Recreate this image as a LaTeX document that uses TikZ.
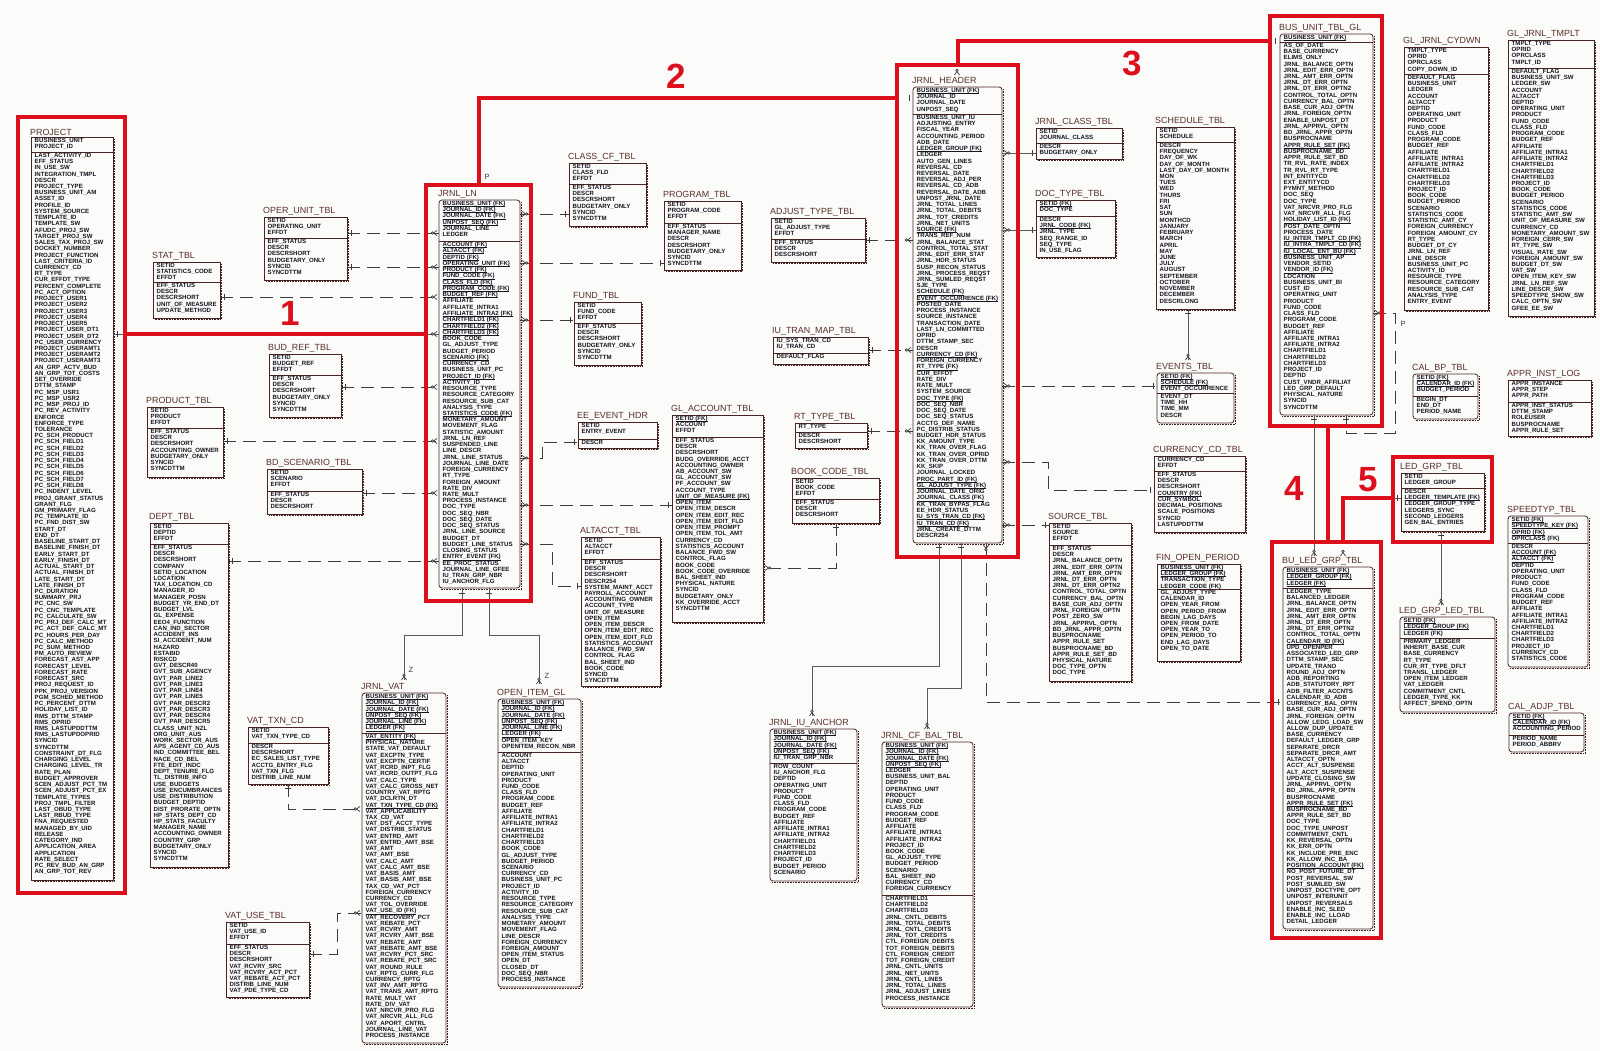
\documentclass[tikz,border=0pt]{standalone}
\usepackage{fontspec}
\setmainfont{Liberation Sans}
\usetikzlibrary{fit,calc}
\definecolor{bgc}{HTML}{FBFBFA}
\definecolor{tline}{HTML}{4A2420}
\definecolor{ttlc}{HTML}{5A3028}
\definecolor{rowc}{HTML}{15151F}
\definecolor{redc}{HTML}{DE0F1C}
\definecolor{connc}{HTML}{3C3C3C}
\tikzset{
  x=1pt,y=-1pt,
  tbl/.style={draw=tline,line width=.8pt,inner sep=0pt,outer sep=0pt},
  rtbl/.style={tbl,rounded corners=3pt},
  shad/.style={draw=tline!85!black,line width=1.5pt,dash pattern=on .9pt off .7pt},
  sepl/.style={draw=tline,line width=.8pt},
  ttl/.style={anchor=south west,inner sep=0pt,text=ttlc,font=\fontsize{8.9}{10}\selectfont},
  rowtext/.style={anchor=north west,inner sep=0pt,text=rowc,font=\fontsize{6.1}{6.23}\selectfont\bfseries},
  conn/.style={draw=connc,line width=.8pt,dash pattern=on 13pt off 7pt},
  sconn/.style={draw=connc!85,line width=.9pt},
  mk/.style={draw=connc,line width=.7pt,solid},
  redbox/.style={inner sep=0pt,outer sep=0pt},
  redln/.style={draw=redc,line width=4pt,line join=miter},
  bignum/.style={text=redc,inner sep=0pt,font=\fontsize{35}{36}\selectfont\bfseries},
  smalllab/.style={inner sep=0pt,text=connc,font=\fontsize{7.5}{8}\selectfont},
  tv/.pic={\draw[mk] (0,-3)--(0,3);},
  th/.pic={\draw[mk] (-3,0)--(3,0);},
  crow/.pic={\draw[mk] (0,-2.6)--(-3.5,0)--(0,2.6); \draw[mk,fill=bgc] (-4.6,0) circle[radius=1.2];}
}
\newsavebox\fkbox
\newcommand\F[1]{\sbox\fkbox{#1}\rlap{\rule[-1.2pt]{\wd\fkbox}{.45pt}}\usebox\fkbox}
\newcommand\rowlist[1]{\begin{tabular}{@{}l@{}}#1\end{tabular}}
\newcommand\ent[6][tbl]{%
  \node[#1,fit={(#3,#4)(#5,#6)}] (#2) {};
  \draw[shad] ([xshift=1.4pt,yshift=-2pt]#2.north east) -- ([xshift=1.4pt,yshift=-1.4pt]#2.south east) -- ([xshift=2pt,yshift=-1.4pt]#2.south west);
  \def\entx{#3}\def\enty{#4}}
\newcommand\txt[5]{%
  \draw[sepl] (#1.west |- 0,#2) -- (#1.east |- 0,#2);
  \node[ttl] (#1t) at (\entx-1,\enty-1.5) {#3};
  \node[rowtext] (#1k) at (\entx+3.5,\enty+0.8) {\rowlist{#4}};
  \node[rowtext] (#1r) at (\entx+3.5,#2+0.8) {\rowlist{#5}};}
\newcommand\lr[4][conn]{%
  \draw[#1] (#2.east |- 0,#4) -- (#3.west |- 0,#4);
  \pic at ($(#2.east |- 0,#4)+(4,0)$) {tv};
  \pic at ($(#3.west |- 0,#4)+(-2,0)$) {crow};}
\newcommand\rl[4][conn]{%
  \draw[#1] (#2.east |- 0,#4) -- (#3.west |- 0,#4);
  \pic[rotate=180] at ($(#2.east |- 0,#4)+(2,0)$) {crow};
  \pic at ($(#3.west |- 0,#4)+(-4,0)$) {tv};}
\setlength{\tabcolsep}{0pt}
\begin{document}
\sbox0{\fontsize{6.1}{6.23}\selectfont\bfseries X}\sbox0{\fontsize{8.9}{10}\selectfont X}\sbox0{\fontsize{35}{36}\selectfont\bfseries X}\sbox0{\fontsize{7.5}{8}\selectfont X}%
\catcode`\_=12
\begin{tikzpicture}
\useasboundingbox (0,0) rectangle (1600,1051);
\fill[bgc] (0,0) rectangle (1600,1051);

\ent{project}{31}{137}{113}{880}
\txt{project}{152}{PROJECT}{BUSINESS_UNIT\\PROJECT_ID}{LAST_ACTIVITY_ID\\EFF_STATUS\\IN_USE_SW\\INTEGRATION_TMPL\\DESCR\\PROJECT_TYPE\\BUSINESS_UNIT_AM\\ASSET_ID\\PROFILE_ID\\SYSTEM_SOURCE\\TEMPLATE_ID\\TEMPLATE_SW\\AFUDC_PROJ_SW\\TARGET_PROJ_SW\\SALES_TAX_PROJ_SW\\DOCKET_NUMBER\\PROJECT_FUNCTION\\LAST_CRITERIA_ID\\CURRENCY_CD\\RT_TYPE\\CUR_EFFDT_TYPE\\PERCENT_COMPLETE\\PC_ACT_OPTION\\PROJECT_USER1\\PROJECT_USER2\\PROJECT_USER3\\PROJECT_USER4\\PROJECT_USER5\\PROJECT_USER_DT1\\PROJECT_USER_DT2\\PC_USER_CURRENCY\\PROJECT_USERAMT1\\PROJECT_USERAMT2\\PROJECT_USERAMT3\\AN_GRP_ACTV_BUD\\AN_GRP_TOT_COSTS\\SET_OVERRIDE\\DTTM_STAMP\\PC_MSP_USR1\\PC_MSP_USR2\\PC_MSP_PROJ_ID\\PC_REV_ACTIVITY\\ENFORCE\\ENFORCE_TYPE\\TOLERANCE\\PC_SCH_PRODUCT\\PC_SCH_FIELD1\\PC_SCH_FIELD2\\PC_SCH_FIELD3\\PC_SCH_FIELD4\\PC_SCH_FIELD5\\PC_SCH_FIELD6\\PC_SCH_FIELD7\\PC_SCH_FIELD8\\PC_INDENT_LEVEL\\PROJ_GRANT_STATUS\\GRANT_FLG\\GM_PRIMARY_FLAG\\PC_TEMPLATE_ID\\PC_FND_DIST_SW\\START_DT\\END_DT\\BASELINE_START_DT\\BASELINE_FINISH_DT\\EARLY_START_DT\\EARLY_FINISH_DT\\ACTUAL_START_DT\\ACTUAL_FINISH_DT\\LATE_START_DT\\LATE_FINISH_DT\\PC_DURATION\\SUMMARY_PRJ\\PC_CNC_SW\\PC_CNC_TEMPLATE\\PC_CALCULATE_SW\\PC_PRJ_DEF_CALC_MT\\PC_ACT_DEF_CALC_MT\\PC_HOURS_PER_DAY\\PC_CALC_METHOD\\PC_SUM_METHOD\\PM_AUTO_REVIEW\\FORECAST_AST_APP\\FORECAST_LEVEL\\FORECAST_RATE\\FORECAST_SRC\\PROJ_REQUEST_ID\\PPK_PROJ_VERSION\\PGM_SCHED_METHOD\\PC_PERCENT_DTTM\\HOLIDAY_LIST_ID\\RMS_DTTM_STAMP\\RMS_OPRID\\RMS_LASTUPDDTTM\\RMS_LASTUPDOPRID\\SYNCID\\SYNCDTTM\\CONSTRAINT_DT_FLG\\CHARGING_LEVEL\\CHARGING_LEVEL_TR\\RATE_PLAN\\BUDGET_APPROVER\\SCEN_ADJUST_PCT_TM\\SCEN_ADJUST_PCT_EX\\TEMPLATE_TYPES\\PROJ_TMPL_FILTER\\LAST_OBUD_TYPE\\LAST_RBUD_TYPE\\FNA_REQUESTED\\MANAGED_BY_UID\\RELEASE\\CATEGORY_IND\\APPLICATION_AREA\\APPLICATION\\RATE_SELECT\\PC_REV_BUD_AN_GRP\\AN_GRP_TOT_REV}

\ent{stat}{153}{262}{220}{318}
\txt{stat}{282}{STAT_TBL}{SETID\\STATISTICS_CODE\\EFFDT}{EFF_STATUS\\DESCR\\DESCRSHORT\\UNIT_OF_MEASURE\\UPDATE_METHOD}
\ent{product}{147}{407}{223}{477}
\txt{product}{428}{PRODUCT_TBL}{SETID\\PRODUCT\\EFFDT}{EFF_STATUS\\DESCR\\DESCRSHORT\\ACCOUNTING_OWNER\\BUDGETARY_ONLY\\SYNCID\\SYNCDTTM}
\ent{dept}{150}{523}{228}{867}
\txt{dept}{544}{DEPT_TBL}{SETID\\DEPTID\\EFFDT}{EFF_STATUS\\DESCR\\DESCRSHORT\\COMPANY\\SETID_LOCATION\\LOCATION\\TAX_LOCATION_CD\\MANAGER_ID\\MANAGER_POSN\\BUDGET_YR_END_DT\\BUDGET_LVL\\GL_EXPENSE\\EEO4_FUNCTION\\CAN_IND_SECTOR\\ACCIDENT_INS\\SI_ACCIDENT_NUM\\HAZARD\\ESTABID\\RISKCD\\GVT_DESCR40\\GVT_SUB_AGENCY\\GVT_PAR_LINE2\\GVT_PAR_LINE3\\GVT_PAR_LINE4\\GVT_PAR_LINE5\\GVT_PAR_DESCR2\\GVT_PAR_DESCR3\\GVT_PAR_DESCR4\\GVT_PAR_DESCR5\\CLASS_UNIT_NZL\\ORG_UNIT_AUS\\WORK_SECTOR_AUS\\APS_AGENT_CD_AUS\\IND_COMMITTEE_BEL\\NACE_CD_BEL\\FTE_EDIT_INDC\\DEPT_TENURE_FLG\\TL_DISTRIB_INFO\\USE_BUDGETS\\USE_ENCUMBRANCES\\USE_DISTRIBUTION\\BUDGET_DEPTID\\DIST_PRORATE_OPTN\\HP_STATS_DEPT_CD\\HP_STATS_FACULTY\\MANAGER_NAME\\ACCOUNTING_OWNER\\COUNTRY_GRP\\BUDGETARY_ONLY\\SYNCID\\SYNCDTTM}
\ent{oper}{264}{217}{347}{280}
\txt{oper}{238}{OPER_UNIT_TBL}{SETID\\OPERATING_UNIT\\EFFDT}{EFF_STATUS\\DESCR\\DESCRSHORT\\BUDGETARY_ONLY\\SYNCID\\SYNCDTTM}
\ent{budref}{269}{354}{341}{417}
\txt{budref}{375}{BUD_REF_TBL}{SETID\\BUDGET_REF\\EFFDT}{EFF_STATUS\\DESCR\\DESCRSHORT\\BUDGETARY_ONLY\\SYNCID\\SYNCDTTM}
\ent{bdscen}{267}{469}{362}{514}
\txt{bdscen}{491}{BD_SCENARIO_TBL}{SETID\\SCENARIO\\EFFDT}{EFF_STATUS\\DESCR\\DESCRSHORT}
\ent[rtbl]{jl}{439}{200}{520}{588}
\txt{jl}{241}{JRNL_LN}{\F{BUSINESS_UNIT (FK)}\\\F{JOURNAL_ID (FK)}\\\F{JOURNAL_DATE (FK)}\\\F{UNPOST_SEQ (FK)}\\JOURNAL_LINE\\LEDGER}{\F{ACCOUNT (FK)}\\\F{ALTACCT (FK)}\\\F{DEPTID (FK)}\\\F{OPERATING_UNIT (FK)}\\\F{PRODUCT (FK)}\\\F{FUND_CODE (FK)}\\\F{CLASS_FLD (FK)}\\\F{PROGRAM_CODE (FK)}\\\F{BUDGET_REF (FK)}\\AFFILIATE\\AFFILIATE_INTRA1\\\F{AFFILIATE_INTRA2 (FK)}\\\F{CHARTFIELD1 (FK)}\\\F{CHARTFIELD2 (FK)}\\\F{CHARTFIELD3 (FK)}\\BOOK_CODE\\GL_ADJUST_TYPE\\BUDGET_PERIOD\\\F{SCENARIO (FK)}\\CURRENCY_CD\\BUSINESS_UNIT_PC\\\F{PROJECT_ID (FK)}\\ACTIVITY_ID\\RESOURCE_TYPE\\RESOURCE_CATEGORY\\RESOURCE_SUB_CAT\\ANALYSIS_TYPE\\\F{STATISTICS_CODE (FK)}\\MONETARY_AMOUNT\\MOVEMENT_FLAG\\STATISTIC_AMOUNT\\JRNL_LN_REF\\SUSPENDED_LINE\\LINE_DESCR\\JRNL_LINE_STATUS\\JOURNAL_LINE_DATE\\FOREIGN_CURRENCY\\RT_TYPE\\FOREIGN_AMOUNT\\RATE_DIV\\RATE_MULT\\PROCESS_INSTANCE\\DOC_TYPE\\DOC_SEQ_NBR\\DOC_SEQ_DATE\\DOC_SEQ_STATUS\\JRNL_LINE_SOURCE\\BUDGET_DT\\BUDGET_LINE_STATUS\\CLOSING_STATUS\\\F{ENTRY_EVENT (FK)}\\EE_PROC_STATUS\\JOURNAL_LINE_GFEE\\IU_TRAN_GRP_NBR\\IU_ANCHOR_FLG}
\ent{classcf}{569}{163}{646}{226}
\txt{classcf}{184}{CLASS_CF_TBL}{SETID\\CLASS_FLD\\EFFDT}{EFF_STATUS\\DESCR\\DESCRSHORT\\BUDGETARY_ONLY\\SYNCID\\SYNCDTTM}
\ent{program}{664}{201}{741}{270}
\txt{program}{223}{PROGRAM_TBL}{SETID\\PROGRAM_CODE\\EFFDT}{EFF_STATUS\\MANAGER_NAME\\DESCR\\DESCRSHORT\\BUDGETARY_ONLY\\SYNCID\\SYNCDTTM}
\ent{fund}{574}{302}{641}{365}
\txt{fund}{323}{FUND_TBL}{SETID\\FUND_CODE\\EFFDT}{EFF_STATUS\\DESCR\\DESCRSHORT\\BUDGETARY_ONLY\\SYNCID\\SYNCDTTM}
\ent{eevent}{578}{422}{657}{448}
\txt{eevent}{439}{EE_EVENT_HDR}{SETID\\ENTRY_EVENT}{DESCR}
\ent{altacct}{581}{537}{660}{686}
\txt{altacct}{559}{ALTACCT_TBL}{SETID\\ALTACCT\\EFFDT}{EFF_STATUS\\DESCR\\DESCRSHORT\\DESCR254\\SYSTEM_MAINT_ACCT\\PAYROLL_ACCOUNT\\ACCOUNTING_OWNER\\ACCOUNT_TYPE\\UNIT_OF_MEASURE\\OPEN_ITEM\\OPEN_ITEM_DESCR\\OPEN_ITEM_EDIT_REC\\OPEN_ITEM_EDIT_FLD\\STATISTICS_ACCOUNT\\BALANCE_FWD_SW\\CONTROL_FLAG\\BAL_SHEET_IND\\BOOK_CODE\\SYNCID\\SYNCDTTM}
\ent{glacct}{672}{415}{763}{622}
\txt{glacct}{437}{GL_ACCOUNT_TBL}{\F{SETID (FK)}\\ACCOUNT\\EFFDT}{EFF_STATUS\\DESCR\\DESCRSHORT\\BUDG_OVERRIDE_ACCT\\ACCOUNTING_OWNER\\AB_ACCOUNT_SW\\GL_ACCOUNT_SW\\PF_ACCOUNT_SW\\ACCOUNT_TYPE\\\F{UNIT_OF_MEASURE (FK)}\\OPEN_ITEM\\OPEN_ITEM_DESCR\\OPEN_ITEM_EDIT_REC\\OPEN_ITEM_EDIT_FLD\\OPEN_ITEM_PROMPT\\OPEN_ITEM_TOL_AMT\\CURRENCY_CD\\STATISTICS_ACCOUNT\\BALANCE_FWD_SW\\CONTROL_FLAG\\BOOK_CODE\\BOOK_CODE_OVERRIDE\\BAL_SHEET_IND\\PHYSICAL_NATURE\\SYNCID\\BUDGETARY_ONLY\\KK_OVERRIDE_ACCT\\SYNCDTTM}
\ent{adjust}{771}{218}{865}{262}
\txt{adjust}{239}{ADJUST_TYPE_TBL}{SETID\\GL_ADJUST_TYPE\\EFFDT}{EFF_STATUS\\DESCR\\DESCRSHORT}
\ent{iutran}{773}{337}{868}{364}
\txt{iutran}{353}{IU_TRAN_MAP_TBL}{IU_SYS_TRAN_CD\\IU_TRAN_CD}{DEFAULT_FLAG}
\ent{rttype}{795}{423}{867}{448}
\txt{rttype}{432}{RT_TYPE_TBL}{RT_TYPE}{DESCR\\DESCRSHORT}
\ent{bookcode}{792}{478}{879}{523}
\txt{bookcode}{499}{BOOK_CODE_TBL}{SETID\\BOOK_CODE\\EFFDT}{EFF_STATUS\\DESCR\\DESCRSHORT}
\ent[rtbl]{hdr}{913}{87}{1002}{543}
\txt{hdr}{114}{JRNL_HEADER}{\F{BUSINESS_UNIT (FK)}\\JOURNAL_ID\\JOURNAL_DATE\\UNPOST_SEQ}{BUSINESS_UNIT_IU\\ADJUSTING_ENTRY\\FISCAL_YEAR\\ACCOUNTING_PERIOD\\ADB_DATE\\\F{LEDGER_GROUP (FK)}\\LEDGER\\AUTO_GEN_LINES\\REVERSAL_CD\\REVERSAL_DATE\\REVERSAL_ADJ_PER\\REVERSAL_CD_ADB\\REVERSAL_DATE_ADB\\UNPOST_JRNL_DATE\\JRNL_TOTAL_LINES\\JRNL_TOTAL_DEBITS\\JRNL_TOT_CREDITS\\JRNL_NET_UNITS\\\F{SOURCE (FK)}\\TRANS_REF_NUM\\JRNL_BALANCE_STAT\\CONTROL_TOTAL_STAT\\JRNL_EDIT_ERR_STAT\\JRNL_HDR_STATUS\\SUSP_RECON_STATUS\\JRNL_PROCESS_REQST\\JRNL_SUMLED_REQST\\SJE_TYPE\\\F{SCHEDULE (FK)}\\\F{EVENT_OCCURRENCE (FK)}\\POSTED_DATE\\PROCESS_INSTANCE\\SOURCE_INSTANCE\\TRANSACTION_DATE\\LAST_LN_COMMITTED\\OPRID\\DTTM_STAMP_SEC\\DESCR\\\F{CURRENCY_CD (FK)}\\FOREIGN_CURRENCY\\\F{RT_TYPE (FK)}\\CUR_EFFDT\\RATE_DIV\\RATE_MULT\\SYSTEM_SOURCE\\\F{DOC_TYPE (FK)}\\DOC_SEQ_NBR\\DOC_SEQ_DATE\\DOC_SEQ_STATUS\\ACCTG_DEF_NAME\\PC_DISTRIB_STATUS\\BUDGET_HDR_STATUS\\KK_AMOUNT_TYPE\\KK_TRAN_OVER_FLAG\\KK_TRAN_OVER_OPRID\\KK_TRAN_OVER_DTTM\\KK_SKIP\\JOURNAL_LOCKED\\\F{PROC_PART_ID (FK)}\\\F{GL_ADJUST_TYPE (FK)}\\JOURNAL_DATE_ORIG\\\F{JOURNAL_CLASS (FK)}\\KK_TRAN_BYPAS_FLAG\\EE_HDR_STATUS\\\F{IU_SYS_TRAN_CD (FK)}\\\F{IU_TRAN_CD (FK)}\\JRNL_CREATE_DTTM\\DESCR254}
\ent{jclass}{1036}{128}{1122}{159}
\txt{jclass}{143}{JRNL_CLASS_TBL}{SETID\\JOURNAL_CLASS}{DESCR\\BUDGETARY_ONLY}
\ent{doctype}{1036}{200}{1115}{257}
\txt{doctype}{216}{DOC_TYPE_TBL}{\F{SETID (FK)}\\DOC_TYPE}{DESCR\\\F{JRNL_CODE (FK)}\\JRNL_TYPE\\SEQ_RANGE_ID\\SEQ_TYPE\\IN_USE_FLAG}
\ent{sched}{1156}{127}{1234}{309}
\txt{sched}{142}{SCHEDULE_TBL}{SETID\\SCHEDULE}{DESCR\\FREQUENCY\\DAY_OF_WK\\DAY_OF_MONTH\\LAST_DAY_OF_MONTH\\MON\\TUES\\WED\\THURS\\FRI\\SAT\\SUN\\MONTHCD\\JANUARY\\FEBRUARY\\MARCH\\APRIL\\MAY\\JUNE\\JULY\\AUGUST\\SEPTEMBER\\OCTOBER\\NOVEMBER\\DECEMBER\\DESCRLONG}
\ent[rtbl]{events}{1157}{373}{1234}{423}
\txt{events}{393}{EVENTS_TBL}{\F{SETID (FK)}\\\F{SCHEDULE (FK)}\\EVENT_OCCURRENCE}{EVENT_DT\\TIME_HH\\TIME_MM\\DESCR}
\ent{currency}{1154}{456}{1245}{532}
\txt{currency}{471}{CURRENCY_CD_TBL}{CURRENCY_CD\\EFFDT}{EFF_STATUS\\DESCR\\DESCRSHORT\\\F{COUNTRY (FK)}\\CUR_SYMBOL\\DECIMAL_POSITIONS\\SCALE_POSITIONS\\SYNCID\\LASTUPDDTTM}
\ent{source}{1049}{523}{1131}{681}
\txt{source}{545}{SOURCE_TBL}{SETID\\SOURCE\\EFFDT}{EFF_STATUS\\DESCR\\JRNL_BALANCE_OPTN\\JRNL_EDIT_ERR_OPTN\\JRNL_AMT_ERR_OPTN\\JRNL_DT_ERR_OPTN\\JRNL_DT_ERR_OPTN2\\CONTROL_TOTAL_OPTN\\CURRENCY_BAL_OPTN\\BASE_CUR_ADJ_OPTN\\JRNL_FOREIGN_OPTN\\POST_ZERO_SW\\JRNL_APPRVL_OPTN\\BD_JRNL_APPR_OPTN\\BUSPROCNAME\\APPR_RULE_SET\\BUSPROCNAME_BD\\APPR_RULE_SET_BD\\PHYSICAL_NATURE\\DOC_TYPE_OPTN\\DOC_TYPE}
\ent{finopen}{1157}{564}{1240}{661}
\txt{finopen}{589}{FIN_OPEN_PERIOD}{\F{BUSINESS_UNIT (FK)}\\\F{LEDGER_GROUP (FK)}\\TRANSACTION_TYPE\\LEDGER_CODE (FK)}{GL_ADJUST_TYPE\\CALENDAR_ID\\OPEN_YEAR_FROM\\OPEN_PERIOD_FROM\\BEGIN_LAG_DAYS\\OPEN_FROM_DATE\\OPEN_YEAR_TO\\OPEN_PERIOD_TO\\END_LAG_DAYS\\OPEN_TO_DATE}
\ent[rtbl]{bus}{1280}{34}{1373}{415}
\txt{bus}{42}{BUS_UNIT_TBL_GL}{\F{BUSINESS_UNIT (FK)}}{AS_OF_DATE\\BASE_CURRENCY\\ELIMS_ONLY\\JRNL_BALANCE_OPTN\\JRNL_EDIT_ERR_OPTN\\JRNL_AMT_ERR_OPTN\\JRNL_DT_ERR_OPTN\\JRNL_DT_ERR_OPTN2\\CONTROL_TOTAL_OPTN\\CURRENCY_BAL_OPTN\\BASE_CUR_ADJ_OPTN\\JRNL_FOREIGN_OPTN\\ENABLE_UNPOST_DT\\JRNL_APPRVL_OPTN\\BD_JRNL_APPR_OPTN\\BUSPROCNAME\\\F{APPR_RULE_SET (FK)}\\BUSPROCNAME_BD\\APPR_RULE_SET_BD\\TR_RVL_RATE_INDEX\\TR_RVL_RT_TYPE\\INT_ENTITYCD\\EXT_ENTITYCD\\PYMNT_METHOD\\DOC_SEQ\\DOC_TYPE\\VAT_NRCVR_PRO_FLG\\VAT_NRCVR_ALL_FLG\\\F{HOLIDAY_LIST_ID (FK)}\\POST_DATE_OPTN\\PROCESS_DATE\\\F{IU_INTER_TMPLT_CD (FK)}\\\F{IU_INTRA_TMPLT_CD (FK)}\\\F{IU_LOCAL_ENT_BU (FK)}\\BUSINESS_UNIT_AP\\VENDOR_SETID\\\F{VENDOR_ID (FK)}\\LOCATION\\BUSINESS_UNIT_BI\\CUST_ID\\OPERATING_UNIT\\PRODUCT\\FUND_CODE\\CLASS_FLD\\PROGRAM_CODE\\BUDGET_REF\\AFFILIATE\\AFFILIATE_INTRA1\\AFFILIATE_INTRA2\\CHARTFIELD1\\CHARTFIELD2\\CHARTFIELD3\\PROJECT_ID\\DEPTID\\CUST_VNDR_AFFILIAT\\LED_GRP_DEFAULT\\PHYSICAL_NATURE\\SYNCID\\SYNCDTTM}
\ent{cydwn}{1404}{47}{1488}{310}
\txt{cydwn}{74}{GL_JRNL_CYDWN}{TMPLT_TYPE\\OPRID\\OPRCLASS\\COPY_DOWN_ID}{DEFAULT_FLAG\\BUSINESS_UNIT\\LEDGER\\ACCOUNT\\ALTACCT\\DEPTID\\OPERATING_UNIT\\PRODUCT\\FUND_CODE\\CLASS_FLD\\PROGRAM_CODE\\BUDGET_REF\\AFFILIATE\\AFFILIATE_INTRA1\\AFFILIATE_INTRA2\\CHARTFIELD1\\CHARTFIELD2\\CHARTFIELD3\\PROJECT_ID\\BOOK_CODE\\BUDGET_PERIOD\\SCENARIO\\STATISTICS_CODE\\STATISTIC_AMT_CY\\FOREIGN_CURRENCY\\FOREIGN_AMOUNT_CY\\RT_TYPE\\BUDGET_DT_CY\\JRNL_LN_REF\\LINE_DESCR\\BUSINESS_UNIT_PC\\ACTIVITY_ID\\RESOURCE_TYPE\\RESOURCE_CATEGORY\\RESOURCE_SUB_CAT\\ANALYSIS_TYPE\\ENTRY_EVENT}
\ent{tmplt}{1508}{40}{1594}{316}
\txt{tmplt}{68}{GL_JRNL_TMPLT}{TMPLT_TYPE\\OPRID\\OPRCLASS\\TMPLT_ID}{DEFAULT_FLAG\\BUSINESS_UNIT_SW\\LEDGER_SW\\ACCOUNT\\ALTACCT\\DEPTID\\OPERATING_UNIT\\PRODUCT\\FUND_CODE\\CLASS_FLD\\PROGRAM_CODE\\BUDGET_REF\\AFFILIATE\\AFFILIATE_INTRA1\\AFFILIATE_INTRA2\\CHARTFIELD1\\CHARTFIELD2\\CHARTFIELD3\\PROJECT_ID\\BOOK_CODE\\BUDGET_PERIOD\\SCENARIO\\STATISTICS_CODE\\STATISTIC_AMT_SW\\UNIT_OF_MEASURE_SW\\CURRENCY_CD\\MONETARY_AMOUNT_SW\\FOREIGN_CERR_SW\\RT_TYPE_SW\\VISUAL_RATE_SW\\FOREIGN_AMOUNT_SW\\BUDGET_DT_SW\\VAT_SW\\OPEN_ITEM_KEY_SW\\JRNL_LN_REF_SW\\LINE_DESCR_SW\\SPEEDTYPE_SHOW_SW\\CALC_OPTN_SW\\GFEE_EE_SW}
\ent[rtbl]{calbp}{1413}{374}{1478}{419}
\txt{calbp}{396}{CAL_BP_TBL}{\F{SETID (FK)}\\\F{CALENDAR_ID (FK)}\\BUDGET_PERIOD}{BEGIN_DT\\END_DT\\PERIOD_NAME}
\ent{apprlog}{1508}{380}{1591}{436}
\txt{apprlog}{402}{APPR_INST_LOG}{APPR_INSTANCE\\APPR_STEP\\APPR_PATH}{APPR_INST_STATUS\\DTTM_STAMP\\ROLEUSER\\BUSPROCNAME\\APPR_RULE_SET}
\ent[rtbl]{buled}{1283}{567}{1373}{929}
\txt{buled}{588}{BU_LED_GRP_TBL}{\F{BUSINESS_UNIT (FK)}\\\F{LEDGER_GROUP (FK)}\\\F{LEDGER (FK)}}{LEDGER_TYPE\\BALANCED_LEDGER\\JRNL_BALANCE_OPTN\\JRNL_EDIT_ERR_OPTN\\JRNL_AMT_ERR_OPTN\\JRNL_DT_ERR_OPTN\\JRNL_DT_ERR_OPTN2\\CONTROL_TOTAL_OPTN\\\F{CALENDAR_ID (FK)}\\UPD_OPENPER\\ASSOCIATED_LED_GRP\\DTTM_STAMP_SEC\\UPDATE_TRANO\\ROUND_ADJ_OPTN\\ADB_REPORTING\\ADB_STATUTORY_RPT\\ADB_FILTER_ACCNTS\\CALENDAR_ID_ADB\\CURRENCY_BAL_OPTN\\BASE_CUR_ADJ_OPTN\\JRNL_FOREIGN_OPTN\\ALLOW_LEDG_LOAD_SW\\ALLOW_DUP_UPDATE\\BASE_CURRENCY\\DEFAULT_LEDGER_GRP\\SEPARATE_DRCR\\SEPARATE_DRCR_AMT\\ALTACCT_OPTN\\ACCT_ALT_SUSPENSE\\ALT_ACCT_SUSPENSE\\UPDATE_CLOSING_SW\\JRNL_APPRVL_OPTN\\BD_JRNL_APPR_OPTN\\BUSPROCNAME\\\F{APPR_RULE_SET (FK)}\\BUSPROCNAME_BD\\APPR_RULE_SET_BD\\DOC_TYPE\\DOC_TYPE_UNPOST\\COMMITMENT_CNTL\\KK_REVERSAL_OPTN\\KK_ERR_OPTN\\KK_INCLUDE_PRE_ENC\\KK_ALLOW_INC_BA\\\F{POSITION_ACCOUNT (FK)}\\NO_POST_FUTURE_DT\\POST_REVERSAL_SW\\POST_SUMLED_SW\\UNPOST_DOCTYPE_OPT\\UNPOST_INTERUNIT\\UNPOST_REVERSALS\\ENABLE_INC_SLED\\ENABLE_INC_LLOAD\\DETAIL_LEDGER}
\ent{ledgrp}{1401}{473}{1484}{531}
\txt{ledgrp}{488}{LED_GRP_TBL}{SETID\\LEDGER_GROUP}{DESCR\\\F{LEDGER_TEMPLATE (FK)}\\LEDGER_GROUP_TYPE\\LEDGERS_SYNC\\SECOND_LEDGERS\\GEN_BAL_ENTRIES}
\ent[rtbl]{gled}{1400}{617}{1495}{712}
\txt{gled}{638}{LED_GRP_LED_TBL}{\F{SETID (FK)}\\\F{LEDGER_GROUP (FK)}\\LEDGER (FK)}{PRIMARY_LEDGER\\INHERIT_BASE_CUR\\BASE_CURRENCY\\RT_TYPE\\CUR_RT_TYPE_DFLT\\TRANSL_LEDGER\\OPEN_ITEM_LEDGER\\VAT_LEDGER\\COMMITMENT_CNTL\\LEDGER_TYPE_KK\\AFFECT_SPEND_OPTN}
\ent[rtbl]{speed}{1508}{516}{1588}{667}
\txt{speed}{543}{SPEEDTYP_TBL}{\F{SETID (FK)}\\\F{SPEEDTYPE_KEY (FK)}\\\F{OPRID (FK)}\\OPRCLASS (FK)}{DESCR\\\F{ACCOUNT (FK)}\\\F{ALTACCT (FK)}\\DEPTID\\OPERATING_UNIT\\PRODUCT\\FUND_CODE\\CLASS_FLD\\PROGRAM_CODE\\BUDGET_REF\\AFFILIATE\\AFFILIATE_INTRA1\\AFFILIATE_INTRA2\\CHARTFIELD1\\CHARTFIELD2\\CHARTFIELD3\\PROJECT_ID\\CURRENCY_CD\\STATISTICS_CODE}
\ent[rtbl]{caladj}{1509}{713}{1584}{752}
\txt{caladj}{735}{CAL_ADJP_TBL}{\F{SETID (FK)}\\\F{CALENDAR_ID (FK)}\\ACCOUNTING_PERIOD}{PERIOD_NAME\\PERIOD_ABBRV}
\ent{vattxn}{248}{727}{328}{784}
\txt{vattxn}{743}{VAT_TXN_CD}{SETID\\VAT_TXN_TYPE_CD}{DESCR\\DESCRSHORT\\EC_SALES_LIST_TYPE\\ACCTG_ENTRY_FLG\\VAT_TXN_FLG\\DISTRIB_LINE_NUM}
\ent{vatuse}{226}{922}{309}{997}
\txt{vatuse}{944}{VAT_USE_TBL}{SETID\\VAT_USE_ID\\EFFDT}{EFF_STATUS\\DESCR\\DESCRSHORT\\VAT_RCVRY_SRC\\VAT_RCVRY_ACT_PCT\\VAT_REBATE_ACT_PCT\\DISTRIB_LINE_NUM\\VAT_PDE_TYPE_CD}
\ent[rtbl]{jvat}{362}{693}{446}{1043}
\txt{jvat}{733}{JRNL_VAT}{\F{BUSINESS_UNIT (FK)}\\\F{JOURNAL_ID (FK)}\\\F{JOURNAL_DATE (FK)}\\\F{UNPOST_SEQ (FK)}\\\F{JOURNAL_LINE (FK)}\\\F{LEDGER (FK)}}{\F{VAT_ENTITY (FK)}\\PHYSICAL_NATURE\\STATE_VAT_DEFAULT\\VAT_EXCPTN_TYPE\\VAT_EXCPTN_CERTIF\\VAT_RCRD_INPT_FLG\\VAT_RCRD_OUTPT_FLG\\VAT_CALC_TYPE\\VAT_CALC_GROSS_NET\\COUNTRY_VAT_RPTG\\VAT_DCLRTN_DT\\\F{VAT_TXN_TYPE_CD (FK)}\\VAT_APPLICABILITY\\TAX_CD_VAT\\VAT_DST_ACCT_TYPE\\VAT_DISTRIB_STATUS\\VAT_ENTRD_AMT\\VAT_ENTRD_AMT_BSE\\VAT_AMT\\VAT_AMT_BSE\\VAT_CALC_AMT\\VAT_CALC_AMT_BSE\\VAT_BASIS_AMT\\VAT_BASIS_AMT_BSE\\TAX_CD_VAT_PCT\\FOREIGN_CURRENCY\\CURRENCY_CD\\VAT_TOL_OVERRIDE\\\F{VAT_USE_ID (FK)}\\VAT_RECOVERY_PCT\\VAT_REBATE_PCT\\VAT_RCVRY_AMT\\VAT_RCVRY_AMT_BSE\\VAT_REBATE_AMT\\VAT_REBATE_AMT_BSE\\VAT_RCVRY_PCT_SRC\\VAT_REBATE_PCT_SRC\\VAT_ROUND_RULE\\VAT_RPTG_CURR_FLG\\CURRENCY_RPTG\\VAT_INV_AMT_RPTG\\VAT_TRANS_AMT_RPTG\\RATE_MULT_VAT\\RATE_DIV_VAT\\VAT_NRCVR_PRO_FLG\\VAT_NRCVR_ALL_FLG\\VAT_APORT_CNTRL\\JOURNAL_LINE_VAT\\PROCESS_INSTANCE}
\ent[rtbl]{openitem}{498}{699}{581}{987}
\txt{openitem}{752}{OPEN_ITEM_GL}{\F{BUSINESS_UNIT (FK)}\\\F{JOURNAL_ID (FK)}\\\F{JOURNAL_DATE (FK)}\\\F{UNPOST_SEQ (FK)}\\\F{JOURNAL_LINE (FK)}\\\F{LEDGER (FK)}\\OPEN_ITEM_KEY\\OPENITEM_RECON_NBR}{ACCOUNT\\ALTACCT\\DEPTID\\OPERATING_UNIT\\PRODUCT\\FUND_CODE\\CLASS_FLD\\PROGRAM_CODE\\BUDGET_REF\\AFFILIATE\\AFFILIATE_INTRA1\\AFFILIATE_INTRA2\\CHARTFIELD1\\CHARTFIELD2\\CHARTFIELD3\\BOOK_CODE\\GL_ADJUST_TYPE\\BUDGET_PERIOD\\SCENARIO\\CURRENCY_CD\\BUSINESS_UNIT_PC\\PROJECT_ID\\ACTIVITY_ID\\RESOURCE_TYPE\\RESOURCE_CATEGORY\\RESOURCE_SUB_CAT\\ANALYSIS_TYPE\\MONETARY_AMOUNT\\MOVEMENT_FLAG\\LINE_DESCR\\FOREIGN_CURRENCY\\FOREIGN_AMOUNT\\OPEN_ITEM_STATUS\\OPEN_DT\\CLOSED_DT\\DOC_SEQ_NBR\\PROCESS_INSTANCE}
\ent[rtbl]{anchor}{770}{729}{857}{881}
\txt{anchor}{763}{JRNL_IU_ANCHOR}{\F{BUSINESS_UNIT (FK)}\\\F{JOURNAL_ID (FK)}\\\F{JOURNAL_DATE (FK)}\\\F{UNPOST_SEQ (FK)}\\IU_TRAN_GRP_NBR}{ROW_COUNT\\IU_ANCHOR_FLG\\DEPTID\\OPERATING_UNIT\\PRODUCT\\FUND_CODE\\CLASS_FLD\\PROGRAM_CODE\\BUDGET_REF\\AFFILIATE\\AFFILIATE_INTRA1\\AFFILIATE_INTRA2\\CHARTFIELD1\\CHARTFIELD2\\CHARTFIELD3\\PROJECT_ID\\BUDGET_PERIOD\\SCENARIO}
\ent[rtbl]{cfbal}{882}{742}{973}{1007}
\txt{cfbal}{895}{JRNL_CF_BAL_TBL}{\F{BUSINESS_UNIT (FK)}\\\F{JOURNAL_ID (FK)}\\\F{JOURNAL_DATE (FK)}\\\F{UNPOST_SEQ (FK)}\\LEDGER\\BUSINESS_UNIT_BAL\\DEPTID\\OPERATING_UNIT\\PRODUCT\\FUND_CODE\\CLASS_FLD\\PROGRAM_CODE\\BUDGET_REF\\AFFILIATE\\AFFILIATE_INTRA1\\AFFILIATE_INTRA2\\PROJECT_ID\\BOOK_CODE\\GL_ADJUST_TYPE\\BUDGET_PERIOD\\SCENARIO\\BAL_SHEET_IND\\CURRENCY_CD\\FOREIGN_CURRENCY}{CHARTFIELD1\\CHARTFIELD2\\CHARTFIELD3\\JRNL_CNTL_DEBITS\\JRNL_TOTAL_DEBITS\\JRNL_CNTL_CREDITS\\JRNL_TOT_CREDITS\\CTL_FOREIGN_DEBITS\\TOT_FOREIGN_DEBITS\\CTL_FOREIGN_CREDIT\\TOT_FOREIGN_CREDIT\\JRNL_CNTL_UNITS\\JRNL_NET_UNITS\\JRNL_CNTL_LINES\\JRNL_TOTAL_LINES\\JRNL_ADJUST_LINES\\PROCESS_INSTANCE}

% red frames (positions first, drawn last)
\node[redbox,fit={(18,117)(125,893)}] (rproject) {};
\node[redbox,fit={(426,185)(531,601)}] (rjl) {};
\node[redbox,fit={(897,65)(1018,557)}] (rhdr) {};
\node[redbox,fit={(1270,16)(1382,426)}] (rbus) {};
\node[redbox,fit={(1272,542)(1381,938)}] (rbuled) {};
\node[redbox,fit={(1393,457)(1492,542)}] (rled) {};

% relationships to JRNL_LN
\lr{oper}{jl}{233}
\lr{oper}{jl}{267}
\lr{stat}{jl}{297}
\lr[sconn]{project}{jl}{334}
\lr{budref}{jl}{387}
\lr{product}{jl}{441}
\lr{bdscen}{jl}{493}
\lr{dept}{jl}{561}
\rl{jl}{classcf}{214}
\rl{jl}{program}{263}
\rl{jl}{fund}{320}
\rl{jl}{glacct}{505}
\coordinate (ee1) at (542,458);
\coordinate (ee2) at (542,442);
\draw[conn] (jl.east |- ee1) -- (ee1) -- (ee2) -- (eevent.west |- ee2);
\pic[rotate=180] at ($(jl.east |- ee1)+(2,0)$) {crow};
\pic at ($(eevent.west |- ee2)+(-4,0)$) {tv};
\coordinate (al1) at (552,544);
\coordinate (al2) at (552,586);
\draw[conn] (jl.east |- al1) -- (al1) -- (al2) -- (altacct.west |- al2);
\pic[rotate=180] at ($(jl.east |- al1)+(2,0)$) {crow};
\pic at ($(altacct.west |- al2)+(-4,0)$) {tv};
\coordinate (bc1) at (836,568);
\draw[conn] (bookcode.south -| bc1) -- (bc1) -- (glacct.east |- bc1);
\pic at ($(bookcode.south -| bc1)+(0,4)$) {th};
\pic[rotate=180] at ($(glacct.east |- bc1)+(2,0)$) {crow};

% JRNL_LN to children
\coordinate (v1) at (462,635);
\coordinate (v2) at (404,635);
\coordinate (v3) at (404,680);
\draw[sconn] (jl.south -| v1) -- (v1) -- (v2) -- (v3);
\pic at (462,593) {th};
\pic[rotate=-90] at (v3) {crow};
\node[smalllab] (zv) at (411,670) {Z};
\coordinate (o1) at (489,635);
\coordinate (o2) at (539,635);
\coordinate (o3) at (539,684);
\draw[sconn] (jl.south -| o1) -- (o1) -- (o2) -- (o3);
\pic at (489,593) {th};
\pic[rotate=-90] at (o3) {crow};
\node[smalllab] (zo) at (547,676) {Z};
\node[smalllab] (pj) at (487,177) {P};
% VAT
\coordinate (t1) at (288,809);
\draw[conn] (vattxn.south -| t1) -- (t1) -- (jvat.west |- t1);
\pic at ($(vattxn.south -| t1)+(0,4)$) {th};
\pic at ($(jvat.west |- t1)+(-2,0)$) {crow};
\coordinate (u1) at (337,954);
\coordinate (u2) at (337,913);
\draw[conn] (vatuse.east |- u1) -- (u1) -- (u2) -- (jvat.west |- u2);
\pic at ($(vatuse.east |- u1)+(4,0)$) {tv};
\pic at ($(jvat.west |- u2)+(-2,0)$) {crow};

% JRNL_HEADER
\lr{adjust}{hdr}{240}
\lr{iutran}{hdr}{350}
\lr{rttype}{hdr}{431}
\rl[sconn]{hdr}{jclass}{153}
\rl[sconn]{hdr}{doctype}{230}
\rl{hdr}{events}{386}
\rl{hdr}{source}{525}
\coordinate (c1) at (1048,462);
\coordinate (c2) at (1048,490);
\draw[conn] (hdr.east |- c1) -- (c1) -- (c2) -- (currency.west |- c2);
\pic[rotate=180] at ($(hdr.east |- c1)+(2,0)$) {crow};
\pic at ($(currency.west |- c2)+(-4,0)$) {tv};
\pic at ($(hdr.west |- 0,98)+(-4,0)$) {tv};
\pic[rotate=-90] at (957,75) {crow};
\pic at (1275,41) {tv};
\coordinate (a1) at (939,666);
\coordinate (a2) at (812,666);
\coordinate (a3) at (812,716);
\draw[sconn] (hdr.south -| a1) -- (a1) -- (a2) -- (a3);
\pic at (939,547) {th};
\pic[rotate=-90] at (a3) {crow};
\coordinate (f1) at (961,688);
\coordinate (f2) at (927,688);
\coordinate (f3) at (927,729);
\draw[sconn] (hdr.south -| f1) -- (f1) -- (f2) -- (f3);
\pic at (961,547) {th};
\pic[rotate=-90] at (f3) {crow};
\coordinate (d1) at (986,702);
\draw[conn] (hdr.south -| d1) -- (d1) -- (buled.west |- d1);
\pic[rotate=90] at (986,545) {crow};
\pic at ($(buled.west |- d1)+(-5,0)$) {tv};

% schedule, ledger groups, business unit
\coordinate (s1) at (1188,360);
\draw[sconn] (sched.south -| s1) -- (s1);
\pic at (1188,313) {th};
\pic[rotate=-90] at (s1) {crow};
\coordinate (g1) at (1441,605);
\draw[sconn] (ledgrp.south -| g1) -- (g1);
\pic at (1441,535) {th};
\pic[rotate=-90] at (g1) {crow};
\coordinate (b1) at (1314,556);
\draw[sconn] (bus.south -| b1) -- (b1);
\pic at (1314,419) {th};
\pic[rotate=-90] at (b1) {crow};
\coordinate (b2) at (1343,556);
\pic[rotate=-90] at (b2) {crow};
\draw[sconn] (rled.west |- 0,498) -- (ledgrp.west |- 0,498);
\pic at ($(ledgrp.west |- 0,498)+(-4,0)$) {tv};
\coordinate (p1) at (1395,313);
\coordinate (p2) at (1395,433);
\coordinate (p3) at (1346,433);
\draw[conn] (bus.east |- p1) -- (p1) -- (p2) -- (p3) -- (bus.south -| p3);
\pic[rotate=180] at ($(bus.east |- p1)+(2,0)$) {crow};
\pic at (1346,419) {th};
\node[smalllab] (pb) at (1403,324) {P};

% red frames and links
\foreach \r in {rproject,rjl,rhdr,rbus,rbuled,rled}
  \draw[redln] (\r.north west) rectangle (\r.south east);
\draw[redln] (rproject.east |- 0,334) -- (rjl.west |- 0,334);
\draw[redln] (rjl.north -| 479,0) -- (479,98) -- (rhdr.west |- 0,98);
\draw[redln] (rhdr.north -| 958,0) -- (958,41) -- (rbus.west |- 0,41);
\draw[redln] (rbus.south -| 1328,0) -- (rbuled.north -| 1328,0);
\draw[redln] (rbuled.north -| 1343,0) -- (1343,498) -- (rled.west |- 0,498);
\node[bignum] (n1) at (290,313) {1};
\node[bignum] (n2) at (676,76) {2};
\node[bignum] (n3) at (1132,63) {3};
\node[bignum] (n4) at (1294,488) {4};
\node[bignum] (n5) at (1368,480) {5};
\end{tikzpicture}
\end{document}
